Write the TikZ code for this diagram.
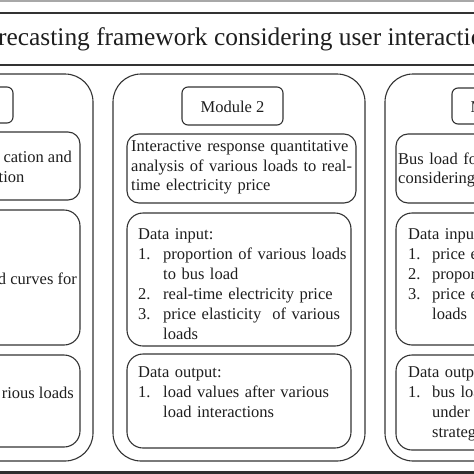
\documentclass[tikz,border=0pt]{standalone}
\usepackage{fontspec}
\setmainfont{Liberation Serif}
\definecolor{lineclr}{HTML}{333333}
\definecolor{textclr}{HTML}{1E1E1E}
\definecolor{topband}{HTML}{A8A8A8}
\definecolor{botband}{HTML}{2E2E2E}
\begin{document}
\begin{tikzpicture}[x=1pt,y=-1pt,
  bigframe/.style={draw=lineclr, line width=1.1pt, rounded corners=28pt},
  modbox/.style={draw=lineclr, line width=1.1pt, rounded corners=6pt},
  itembox/.style={draw=lineclr, line width=1.1pt, rounded corners=12pt},
  databox/.style={draw=lineclr, line width=1.1pt, rounded corners=16pt},
  rule/.style={draw=lineclr, line width=1.2pt},
  body/.style={inner sep=0pt, text=textclr, font=\fontsize{16.5}{20}\selectfont},
  para/.style={body, anchor=base west, text width=260pt, align=left},
  titletxt/.style={inner sep=0pt, text=textclr, anchor=base west, font=\fontsize{25.4}{30}\selectfont}]
\useasboundingbox (0,0) rectangle (474,474);
\clip (0,0) rectangle (474,474);
\fill[white] (0,0) rectangle (474,474);
% bands and rules
\fill[topband] (0,0) rectangle (474,2);
\fill[botband] (0,471) rectangle (474,474);
\draw[rule] (0,13) -- (474,13);
\draw[rule] (0,65) -- (474,65);
\node[titletxt] (title) at (-2,45) {\llap{Load fo}recasting framework considering user interaction};
% ---------- left column (module 1) ----------
\draw[bigframe] (-159,74) rectangle (93,461);
\draw[modbox] (-88,87) rectangle (13,123);
\draw[itembox] (-148,132) rectangle (80,200);
\draw[databox] (-148,210) rectangle (80,345);
\draw[databox] (-148,355) rectangle (80,447);
\node[body, anchor=base east] (l1) at (72,162) {cation and};
\node[body, anchor=base west] (l2) at (-1.5,182) {tion};
\node[body, anchor=base east] (l3) at (77,284) {d curves for};
\node[body, anchor=base east] (l4) at (74,398) {rious loads};
% ---------- middle column (module 2) ----------
\draw[bigframe] (113,74) rectangle (365,461);
\draw[modbox] (182,87) rectangle (283,125);
\node[body] (m2) at (232.5,106.5) {Module 2};
\draw[itembox] (127,134) rectangle (356,203);
\node[para, font=\fontsize{16.5}{19.6}\selectfont] (m2a) at (131,151.5)
  {Interactive response quantitative\\analysis of various loads to real-\\time electricity price};
\draw[databox] (127,213) rectangle (351,346);
\node[para] (m2b) at (138,239.5)
  {Data input:\\
   \makebox[25pt][l]{1.}proportion of various loads\\
   \hspace*{25pt}to bus load\\
   \makebox[25pt][l]{2.}real-time electricity price\\
   \makebox[25pt][l]{3.}price elasticity\ \ of various\\
   \hspace*{25pt}loads};
\draw[databox] (127,354) rectangle (351,448);
\node[para] (m2c) at (138,377.5)
  {Data output:\\
   \makebox[25pt][l]{1.}load values after various\\
   \hspace*{25pt}load interactions};
% ---------- right column (module 3) ----------
\draw[bigframe] (385,74) rectangle (637,461);
\draw[modbox] (452,88) rectangle (553,124);
\node[body] (m3) at (502.5,106.5) {Module 3};
\draw[itembox] (396,134) rectangle (625,203);
\node[para, font=\fontsize{16.5}{19.6}\selectfont] (m3a) at (398,164)
  {Bus load forecasting\\considering user interaction};
\draw[databox] (396,213) rectangle (620,345);
\node[para] (m3b) at (408,239.5)
  {Data input:\\
   \makebox[24pt][l]{1.}price elasticity\\
   \makebox[24pt][l]{2.}proportion of loads\\
   \makebox[24pt][l]{3.}price elasticity of various\\
   \hspace*{24pt}loads};
\draw[databox] (396,355) rectangle (620,450);
\node[para] (m3c) at (408,377.5)
  {Data output:\\
   \makebox[24pt][l]{1.}bus load values\\
   \hspace*{24pt}under different\\
   \hspace*{24pt}strategies};
\end{tikzpicture}
\end{document}
